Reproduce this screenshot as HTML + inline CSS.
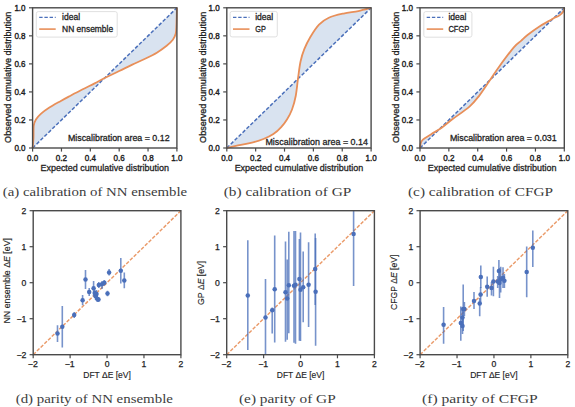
<!DOCTYPE html>
<html><head><meta charset="utf-8"><style>
html,body{margin:0;padding:0;background:#fff;width:575px;height:407px;overflow:hidden}
</style></head><body>
<svg width="575" height="407" viewBox="0 0 575 407" style="display:block">
<rect width="575" height="407" fill="#ffffff"/>
<g>
<path d="M32.6,148 C32.74,146.36 33.27,141.92 33.47,138.19 C33.66,134.45 33.35,128.68 33.75,125.57 C34.16,122.46 34.74,121.48 35.92,119.54 C37.1,117.6 38.71,115.85 40.83,113.93 C42.94,112.02 45.35,110.17 48.62,108.04 C51.89,105.92 56.89,103.18 60.45,101.17 C64.01,99.16 66.34,97.93 69.97,95.99 C73.61,94.05 78.13,91.64 82.24,89.54 C86.35,87.43 91.07,85.21 94.65,83.37 C98.23,81.52 99.65,80.52 103.74,78.46 C107.83,76.4 114.42,73.34 119.18,71.03 C123.94,68.72 128.08,66.59 132.31,64.58 C136.54,62.57 140.49,60.96 144.58,58.97 C148.67,56.99 153.16,54.86 156.84,52.66 C160.52,50.47 163.99,47.94 166.65,45.79 C169.32,43.64 171.34,41.82 172.86,39.77 C174.37,37.71 175.14,35.98 175.75,33.46 C176.35,30.93 176.27,28.9 176.47,24.62 C176.66,20.35 176.83,10.6 176.9,7.8 L32.6,148 Z" fill="#d9e3f0" stroke="none"/>
<line x1="32.6" y1="148" x2="176.9" y2="7.8" stroke="#4a6fba" stroke-width="1.5" stroke-dasharray="3.6,1.9"/>
<path d="M32.6,148 C32.74,146.36 33.27,141.92 33.47,138.19 C33.66,134.45 33.35,128.68 33.75,125.57 C34.16,122.46 34.74,121.48 35.92,119.54 C37.1,117.6 38.71,115.85 40.83,113.93 C42.94,112.02 45.35,110.17 48.62,108.04 C51.89,105.92 56.89,103.18 60.45,101.17 C64.01,99.16 66.34,97.93 69.97,95.99 C73.61,94.05 78.13,91.64 82.24,89.54 C86.35,87.43 91.07,85.21 94.65,83.37 C98.23,81.52 99.65,80.52 103.74,78.46 C107.83,76.4 114.42,73.34 119.18,71.03 C123.94,68.72 128.08,66.59 132.31,64.58 C136.54,62.57 140.49,60.96 144.58,58.97 C148.67,56.99 153.16,54.86 156.84,52.66 C160.52,50.47 163.99,47.94 166.65,45.79 C169.32,43.64 171.34,41.82 172.86,39.77 C174.37,37.71 175.14,35.98 175.75,33.46 C176.35,30.93 176.27,28.9 176.47,24.62 C176.66,20.35 176.83,10.6 176.9,7.8" fill="none" stroke="#e88f59" stroke-width="1.8"/>
<rect x="32.6" y="7.8" width="144.3" height="140.2" fill="none" stroke="#4a4a4a" stroke-width="1.4"/>
<line x1="32.6" y1="148" x2="32.6" y2="151.6" stroke="#4a4a4a" stroke-width="1.2"/>
<line x1="29" y1="148" x2="32.6" y2="148" stroke="#4a4a4a" stroke-width="1.2"/>
<text x="27" y="160.9" font-family="Liberation Sans" font-size="8.8" fill="#1e1e1e" font-weight="normal" stroke="#1e1e1e" stroke-width="0.4" textLength="11.2" lengthAdjust="spacingAndGlyphs">0.0</text>
<text x="14.4" y="150.9" font-family="Liberation Sans" font-size="8.8" fill="#1e1e1e" font-weight="normal" stroke="#1e1e1e" stroke-width="0.4" textLength="11.2" lengthAdjust="spacingAndGlyphs">0.0</text>
<line x1="61.46" y1="148" x2="61.46" y2="151.6" stroke="#4a4a4a" stroke-width="1.2"/>
<line x1="29" y1="119.96" x2="32.6" y2="119.96" stroke="#4a4a4a" stroke-width="1.2"/>
<text x="55.86" y="160.9" font-family="Liberation Sans" font-size="8.8" fill="#1e1e1e" font-weight="normal" stroke="#1e1e1e" stroke-width="0.4" textLength="11.2" lengthAdjust="spacingAndGlyphs">0.2</text>
<text x="14.4" y="122.86" font-family="Liberation Sans" font-size="8.8" fill="#1e1e1e" font-weight="normal" stroke="#1e1e1e" stroke-width="0.4" textLength="11.2" lengthAdjust="spacingAndGlyphs">0.2</text>
<line x1="90.32" y1="148" x2="90.32" y2="151.6" stroke="#4a4a4a" stroke-width="1.2"/>
<line x1="29" y1="91.92" x2="32.6" y2="91.92" stroke="#4a4a4a" stroke-width="1.2"/>
<text x="84.72" y="160.9" font-family="Liberation Sans" font-size="8.8" fill="#1e1e1e" font-weight="normal" stroke="#1e1e1e" stroke-width="0.4" textLength="11.2" lengthAdjust="spacingAndGlyphs">0.4</text>
<text x="14.4" y="94.82" font-family="Liberation Sans" font-size="8.8" fill="#1e1e1e" font-weight="normal" stroke="#1e1e1e" stroke-width="0.4" textLength="11.2" lengthAdjust="spacingAndGlyphs">0.4</text>
<line x1="119.18" y1="148" x2="119.18" y2="151.6" stroke="#4a4a4a" stroke-width="1.2"/>
<line x1="29" y1="63.88" x2="32.6" y2="63.88" stroke="#4a4a4a" stroke-width="1.2"/>
<text x="113.58" y="160.9" font-family="Liberation Sans" font-size="8.8" fill="#1e1e1e" font-weight="normal" stroke="#1e1e1e" stroke-width="0.4" textLength="11.2" lengthAdjust="spacingAndGlyphs">0.6</text>
<text x="14.4" y="66.78" font-family="Liberation Sans" font-size="8.8" fill="#1e1e1e" font-weight="normal" stroke="#1e1e1e" stroke-width="0.4" textLength="11.2" lengthAdjust="spacingAndGlyphs">0.6</text>
<line x1="148.04" y1="148" x2="148.04" y2="151.6" stroke="#4a4a4a" stroke-width="1.2"/>
<line x1="29" y1="35.84" x2="32.6" y2="35.84" stroke="#4a4a4a" stroke-width="1.2"/>
<text x="142.44" y="160.9" font-family="Liberation Sans" font-size="8.8" fill="#1e1e1e" font-weight="normal" stroke="#1e1e1e" stroke-width="0.4" textLength="11.2" lengthAdjust="spacingAndGlyphs">0.8</text>
<text x="14.4" y="38.74" font-family="Liberation Sans" font-size="8.8" fill="#1e1e1e" font-weight="normal" stroke="#1e1e1e" stroke-width="0.4" textLength="11.2" lengthAdjust="spacingAndGlyphs">0.8</text>
<line x1="176.9" y1="148" x2="176.9" y2="151.6" stroke="#4a4a4a" stroke-width="1.2"/>
<line x1="29" y1="7.8" x2="32.6" y2="7.8" stroke="#4a4a4a" stroke-width="1.2"/>
<text x="171.3" y="160.9" font-family="Liberation Sans" font-size="8.8" fill="#1e1e1e" font-weight="normal" stroke="#1e1e1e" stroke-width="0.4" textLength="11.2" lengthAdjust="spacingAndGlyphs">1.0</text>
<text x="14.4" y="10.7" font-family="Liberation Sans" font-size="8.8" fill="#1e1e1e" font-weight="normal" stroke="#1e1e1e" stroke-width="0.4" textLength="11.2" lengthAdjust="spacingAndGlyphs">1.0</text>
<text x="40.45" y="170.8" font-family="Liberation Sans" font-size="9.5" fill="#1e1e1e" font-weight="normal" stroke="#1e1e1e" stroke-width="0.3" textLength="128.6" lengthAdjust="spacingAndGlyphs">Expected cumulative distribution</text>
<text transform="translate(11.32,142.9) rotate(-90)" x="0" y="0" font-family="Liberation Sans" font-size="9.5" fill="#1e1e1e" font-weight="normal" stroke="#1e1e1e" stroke-width="0.3" textLength="131.1" lengthAdjust="spacingAndGlyphs">Observed cumulative distribution</text>
<rect x="36.3" y="11.6" width="80.9" height="25.5" rx="2" ry="2" fill="#ffffff" fill-opacity="0.85" stroke="#d8d8d8" stroke-width="0.8"/>
<line x1="39.2" y1="17.4" x2="55.7" y2="17.4" stroke="#4a6fba" stroke-width="1.3" stroke-dasharray="3.4,1.8"/>
<line x1="39.2" y1="29.1" x2="55.7" y2="29.1" stroke="#e88f59" stroke-width="1.6"/>
<text x="62.1" y="20.3" font-family="Liberation Sans" font-size="8.8" fill="#1e1e1e" font-weight="normal" stroke="#1e1e1e" stroke-width="0.3" textLength="18" lengthAdjust="spacingAndGlyphs">ideal</text>
<text x="62.1" y="31.9" font-family="Liberation Sans" font-size="8.8" fill="#1e1e1e" font-weight="normal" stroke="#1e1e1e" stroke-width="0.3" textLength="51" lengthAdjust="spacingAndGlyphs">NN ensemble</text>
<text x="67.9" y="140.5" font-family="Liberation Sans" font-size="9.2" fill="#1e1e1e" font-weight="normal" stroke="#1e1e1e" stroke-width="0.3" textLength="101.7" lengthAdjust="spacingAndGlyphs">Miscalibration area = 0.12</text>
<text x="2.8" y="196.4" font-family="Liberation Serif" font-size="13" fill="#3c3c3c" font-weight="normal" textLength="184.3" lengthAdjust="spacingAndGlyphs">(a) calibration of NN ensemble</text>
<path d="M226.8,148 C228.32,147.65 232.07,146.69 235.89,145.9 C239.71,145.1 245.15,144.38 249.74,143.23 C254.34,142.09 259.51,140.55 263.45,139.03 C267.4,137.51 270.45,136.11 273.41,134.12 C276.37,132.13 278.92,129.59 281.2,127.11 C283.49,124.63 285.31,122.2 287.12,119.26 C288.92,116.31 290.58,113.37 292.02,109.44 C293.47,105.52 294.77,100.96 295.78,95.71 C296.79,90.45 297.29,83.6 298.08,77.9 C298.88,72.2 299.5,66.29 300.54,61.5 C301.57,56.71 302.65,53.25 304.29,49.16 C305.92,45.07 307.9,41.05 310.35,36.96 C312.8,32.87 315.93,27.83 319.01,24.62 C322.09,21.42 324.73,19.6 328.82,17.75 C332.91,15.91 338.61,14.67 343.54,13.55 C348.47,12.43 353.81,11.98 358.4,11.02 C363,10.07 368.98,8.34 371.1,7.8 L226.8,148 Z" fill="#d9e3f0" stroke="none"/>
<line x1="226.8" y1="148" x2="371.1" y2="7.8" stroke="#4a6fba" stroke-width="1.5" stroke-dasharray="3.6,1.9"/>
<path d="M226.8,148 C228.32,147.65 232.07,146.69 235.89,145.9 C239.71,145.1 245.15,144.38 249.74,143.23 C254.34,142.09 259.51,140.55 263.45,139.03 C267.4,137.51 270.45,136.11 273.41,134.12 C276.37,132.13 278.92,129.59 281.2,127.11 C283.49,124.63 285.31,122.2 287.12,119.26 C288.92,116.31 290.58,113.37 292.02,109.44 C293.47,105.52 294.77,100.96 295.78,95.71 C296.79,90.45 297.29,83.6 298.08,77.9 C298.88,72.2 299.5,66.29 300.54,61.5 C301.57,56.71 302.65,53.25 304.29,49.16 C305.92,45.07 307.9,41.05 310.35,36.96 C312.8,32.87 315.93,27.83 319.01,24.62 C322.09,21.42 324.73,19.6 328.82,17.75 C332.91,15.91 338.61,14.67 343.54,13.55 C348.47,12.43 353.81,11.98 358.4,11.02 C363,10.07 368.98,8.34 371.1,7.8" fill="none" stroke="#e88f59" stroke-width="1.8"/>
<rect x="226.8" y="7.8" width="144.3" height="140.2" fill="none" stroke="#4a4a4a" stroke-width="1.4"/>
<line x1="226.8" y1="148" x2="226.8" y2="151.6" stroke="#4a4a4a" stroke-width="1.2"/>
<line x1="223.2" y1="148" x2="226.8" y2="148" stroke="#4a4a4a" stroke-width="1.2"/>
<text x="221.2" y="160.9" font-family="Liberation Sans" font-size="8.8" fill="#1e1e1e" font-weight="normal" stroke="#1e1e1e" stroke-width="0.4" textLength="11.2" lengthAdjust="spacingAndGlyphs">0.0</text>
<text x="208.6" y="150.9" font-family="Liberation Sans" font-size="8.8" fill="#1e1e1e" font-weight="normal" stroke="#1e1e1e" stroke-width="0.4" textLength="11.2" lengthAdjust="spacingAndGlyphs">0.0</text>
<line x1="255.66" y1="148" x2="255.66" y2="151.6" stroke="#4a4a4a" stroke-width="1.2"/>
<line x1="223.2" y1="119.96" x2="226.8" y2="119.96" stroke="#4a4a4a" stroke-width="1.2"/>
<text x="250.06" y="160.9" font-family="Liberation Sans" font-size="8.8" fill="#1e1e1e" font-weight="normal" stroke="#1e1e1e" stroke-width="0.4" textLength="11.2" lengthAdjust="spacingAndGlyphs">0.2</text>
<text x="208.6" y="122.86" font-family="Liberation Sans" font-size="8.8" fill="#1e1e1e" font-weight="normal" stroke="#1e1e1e" stroke-width="0.4" textLength="11.2" lengthAdjust="spacingAndGlyphs">0.2</text>
<line x1="284.52" y1="148" x2="284.52" y2="151.6" stroke="#4a4a4a" stroke-width="1.2"/>
<line x1="223.2" y1="91.92" x2="226.8" y2="91.92" stroke="#4a4a4a" stroke-width="1.2"/>
<text x="278.92" y="160.9" font-family="Liberation Sans" font-size="8.8" fill="#1e1e1e" font-weight="normal" stroke="#1e1e1e" stroke-width="0.4" textLength="11.2" lengthAdjust="spacingAndGlyphs">0.4</text>
<text x="208.6" y="94.82" font-family="Liberation Sans" font-size="8.8" fill="#1e1e1e" font-weight="normal" stroke="#1e1e1e" stroke-width="0.4" textLength="11.2" lengthAdjust="spacingAndGlyphs">0.4</text>
<line x1="313.38" y1="148" x2="313.38" y2="151.6" stroke="#4a4a4a" stroke-width="1.2"/>
<line x1="223.2" y1="63.88" x2="226.8" y2="63.88" stroke="#4a4a4a" stroke-width="1.2"/>
<text x="307.78" y="160.9" font-family="Liberation Sans" font-size="8.8" fill="#1e1e1e" font-weight="normal" stroke="#1e1e1e" stroke-width="0.4" textLength="11.2" lengthAdjust="spacingAndGlyphs">0.6</text>
<text x="208.6" y="66.78" font-family="Liberation Sans" font-size="8.8" fill="#1e1e1e" font-weight="normal" stroke="#1e1e1e" stroke-width="0.4" textLength="11.2" lengthAdjust="spacingAndGlyphs">0.6</text>
<line x1="342.24" y1="148" x2="342.24" y2="151.6" stroke="#4a4a4a" stroke-width="1.2"/>
<line x1="223.2" y1="35.84" x2="226.8" y2="35.84" stroke="#4a4a4a" stroke-width="1.2"/>
<text x="336.64" y="160.9" font-family="Liberation Sans" font-size="8.8" fill="#1e1e1e" font-weight="normal" stroke="#1e1e1e" stroke-width="0.4" textLength="11.2" lengthAdjust="spacingAndGlyphs">0.8</text>
<text x="208.6" y="38.74" font-family="Liberation Sans" font-size="8.8" fill="#1e1e1e" font-weight="normal" stroke="#1e1e1e" stroke-width="0.4" textLength="11.2" lengthAdjust="spacingAndGlyphs">0.8</text>
<line x1="371.1" y1="148" x2="371.1" y2="151.6" stroke="#4a4a4a" stroke-width="1.2"/>
<line x1="223.2" y1="7.8" x2="226.8" y2="7.8" stroke="#4a4a4a" stroke-width="1.2"/>
<text x="365.5" y="160.9" font-family="Liberation Sans" font-size="8.8" fill="#1e1e1e" font-weight="normal" stroke="#1e1e1e" stroke-width="0.4" textLength="11.2" lengthAdjust="spacingAndGlyphs">1.0</text>
<text x="208.6" y="10.7" font-family="Liberation Sans" font-size="8.8" fill="#1e1e1e" font-weight="normal" stroke="#1e1e1e" stroke-width="0.4" textLength="11.2" lengthAdjust="spacingAndGlyphs">1.0</text>
<text x="234.65" y="170.8" font-family="Liberation Sans" font-size="9.5" fill="#1e1e1e" font-weight="normal" stroke="#1e1e1e" stroke-width="0.3" textLength="128.6" lengthAdjust="spacingAndGlyphs">Expected cumulative distribution</text>
<text transform="translate(205.53,142.9) rotate(-90)" x="0" y="0" font-family="Liberation Sans" font-size="9.5" fill="#1e1e1e" font-weight="normal" stroke="#1e1e1e" stroke-width="0.3" textLength="131.1" lengthAdjust="spacingAndGlyphs">Observed cumulative distribution</text>
<rect x="230.1" y="11.4" width="47.2" height="25.5" rx="2" ry="2" fill="#ffffff" fill-opacity="0.85" stroke="#d8d8d8" stroke-width="0.8"/>
<line x1="233" y1="17.4" x2="249.5" y2="17.4" stroke="#4a6fba" stroke-width="1.3" stroke-dasharray="3.4,1.8"/>
<line x1="233" y1="29.1" x2="249.5" y2="29.1" stroke="#e88f59" stroke-width="1.6"/>
<text x="255.2" y="20.3" font-family="Liberation Sans" font-size="8.8" fill="#1e1e1e" font-weight="normal" stroke="#1e1e1e" stroke-width="0.3" textLength="18" lengthAdjust="spacingAndGlyphs">ideal</text>
<text x="255.2" y="31.9" font-family="Liberation Sans" font-size="8.8" fill="#1e1e1e" font-weight="normal" stroke="#1e1e1e" stroke-width="0.3" textLength="10.6" lengthAdjust="spacingAndGlyphs">GP</text>
<text x="265.4" y="144.9" font-family="Liberation Sans" font-size="9.2" fill="#1e1e1e" font-weight="normal" stroke="#1e1e1e" stroke-width="0.3" textLength="102.6" lengthAdjust="spacingAndGlyphs">Miscalibration area = 0.14</text>
<text x="223.7" y="196.4" font-family="Liberation Serif" font-size="13" fill="#3c3c3c" font-weight="normal" textLength="127.6" lengthAdjust="spacingAndGlyphs">(b) calibration of GP</text>
<path d="M420,148 C420.1,147.3 420.29,144.96 420.58,143.79 C420.87,142.63 421.03,141.9 421.73,140.99 C422.43,140.08 423.13,139.49 424.76,138.33 C426.4,137.16 428.78,135.71 431.54,133.98 C434.31,132.25 437.89,130.4 441.36,127.95 C444.82,125.5 447.63,122.81 452.32,119.26 C457.01,115.71 465,110.59 469.49,106.64 C473.99,102.69 476.25,99.47 479.31,95.57 C482.36,91.66 484.55,87.99 487.82,83.23 C491.09,78.46 494.6,72.95 498.93,66.96 C503.26,60.98 510.12,51.68 513.8,47.34 C517.47,42.99 518.73,42.94 521.01,40.89 C523.29,38.83 524.5,37.36 527.5,35 C530.51,32.64 535.34,29.13 539.05,26.73 C542.75,24.32 547.3,21.98 549.73,20.56 C552.15,19.13 551.99,19.04 553.62,18.17 C555.26,17.31 557.9,16.54 559.54,15.37 C561.17,14.2 562.64,12.43 563.43,11.16 C564.23,9.9 564.16,8.36 564.3,7.8 L420,148 Z" fill="#d9e3f0" stroke="none"/>
<line x1="420" y1="148" x2="564.3" y2="7.8" stroke="#4a6fba" stroke-width="1.5" stroke-dasharray="3.6,1.9"/>
<path d="M420,148 C420.1,147.3 420.29,144.96 420.58,143.79 C420.87,142.63 421.03,141.9 421.73,140.99 C422.43,140.08 423.13,139.49 424.76,138.33 C426.4,137.16 428.78,135.71 431.54,133.98 C434.31,132.25 437.89,130.4 441.36,127.95 C444.82,125.5 447.63,122.81 452.32,119.26 C457.01,115.71 465,110.59 469.49,106.64 C473.99,102.69 476.25,99.47 479.31,95.57 C482.36,91.66 484.55,87.99 487.82,83.23 C491.09,78.46 494.6,72.95 498.93,66.96 C503.26,60.98 510.12,51.68 513.8,47.34 C517.47,42.99 518.73,42.94 521.01,40.89 C523.29,38.83 524.5,37.36 527.5,35 C530.51,32.64 535.34,29.13 539.05,26.73 C542.75,24.32 547.3,21.98 549.73,20.56 C552.15,19.13 551.99,19.04 553.62,18.17 C555.26,17.31 557.9,16.54 559.54,15.37 C561.17,14.2 562.64,12.43 563.43,11.16 C564.23,9.9 564.16,8.36 564.3,7.8" fill="none" stroke="#e88f59" stroke-width="1.8"/>
<rect x="420" y="7.8" width="144.3" height="140.2" fill="none" stroke="#4a4a4a" stroke-width="1.4"/>
<line x1="420" y1="148" x2="420" y2="151.6" stroke="#4a4a4a" stroke-width="1.2"/>
<line x1="416.4" y1="148" x2="420" y2="148" stroke="#4a4a4a" stroke-width="1.2"/>
<text x="414.4" y="160.9" font-family="Liberation Sans" font-size="8.8" fill="#1e1e1e" font-weight="normal" stroke="#1e1e1e" stroke-width="0.4" textLength="11.2" lengthAdjust="spacingAndGlyphs">0.0</text>
<text x="401.8" y="150.9" font-family="Liberation Sans" font-size="8.8" fill="#1e1e1e" font-weight="normal" stroke="#1e1e1e" stroke-width="0.4" textLength="11.2" lengthAdjust="spacingAndGlyphs">0.0</text>
<line x1="448.86" y1="148" x2="448.86" y2="151.6" stroke="#4a4a4a" stroke-width="1.2"/>
<line x1="416.4" y1="119.96" x2="420" y2="119.96" stroke="#4a4a4a" stroke-width="1.2"/>
<text x="443.26" y="160.9" font-family="Liberation Sans" font-size="8.8" fill="#1e1e1e" font-weight="normal" stroke="#1e1e1e" stroke-width="0.4" textLength="11.2" lengthAdjust="spacingAndGlyphs">0.2</text>
<text x="401.8" y="122.86" font-family="Liberation Sans" font-size="8.8" fill="#1e1e1e" font-weight="normal" stroke="#1e1e1e" stroke-width="0.4" textLength="11.2" lengthAdjust="spacingAndGlyphs">0.2</text>
<line x1="477.72" y1="148" x2="477.72" y2="151.6" stroke="#4a4a4a" stroke-width="1.2"/>
<line x1="416.4" y1="91.92" x2="420" y2="91.92" stroke="#4a4a4a" stroke-width="1.2"/>
<text x="472.12" y="160.9" font-family="Liberation Sans" font-size="8.8" fill="#1e1e1e" font-weight="normal" stroke="#1e1e1e" stroke-width="0.4" textLength="11.2" lengthAdjust="spacingAndGlyphs">0.4</text>
<text x="401.8" y="94.82" font-family="Liberation Sans" font-size="8.8" fill="#1e1e1e" font-weight="normal" stroke="#1e1e1e" stroke-width="0.4" textLength="11.2" lengthAdjust="spacingAndGlyphs">0.4</text>
<line x1="506.58" y1="148" x2="506.58" y2="151.6" stroke="#4a4a4a" stroke-width="1.2"/>
<line x1="416.4" y1="63.88" x2="420" y2="63.88" stroke="#4a4a4a" stroke-width="1.2"/>
<text x="500.98" y="160.9" font-family="Liberation Sans" font-size="8.8" fill="#1e1e1e" font-weight="normal" stroke="#1e1e1e" stroke-width="0.4" textLength="11.2" lengthAdjust="spacingAndGlyphs">0.6</text>
<text x="401.8" y="66.78" font-family="Liberation Sans" font-size="8.8" fill="#1e1e1e" font-weight="normal" stroke="#1e1e1e" stroke-width="0.4" textLength="11.2" lengthAdjust="spacingAndGlyphs">0.6</text>
<line x1="535.44" y1="148" x2="535.44" y2="151.6" stroke="#4a4a4a" stroke-width="1.2"/>
<line x1="416.4" y1="35.84" x2="420" y2="35.84" stroke="#4a4a4a" stroke-width="1.2"/>
<text x="529.84" y="160.9" font-family="Liberation Sans" font-size="8.8" fill="#1e1e1e" font-weight="normal" stroke="#1e1e1e" stroke-width="0.4" textLength="11.2" lengthAdjust="spacingAndGlyphs">0.8</text>
<text x="401.8" y="38.74" font-family="Liberation Sans" font-size="8.8" fill="#1e1e1e" font-weight="normal" stroke="#1e1e1e" stroke-width="0.4" textLength="11.2" lengthAdjust="spacingAndGlyphs">0.8</text>
<line x1="564.3" y1="148" x2="564.3" y2="151.6" stroke="#4a4a4a" stroke-width="1.2"/>
<line x1="416.4" y1="7.8" x2="420" y2="7.8" stroke="#4a4a4a" stroke-width="1.2"/>
<text x="558.7" y="160.9" font-family="Liberation Sans" font-size="8.8" fill="#1e1e1e" font-weight="normal" stroke="#1e1e1e" stroke-width="0.4" textLength="11.2" lengthAdjust="spacingAndGlyphs">1.0</text>
<text x="401.8" y="10.7" font-family="Liberation Sans" font-size="8.8" fill="#1e1e1e" font-weight="normal" stroke="#1e1e1e" stroke-width="0.4" textLength="11.2" lengthAdjust="spacingAndGlyphs">1.0</text>
<text x="427.85" y="170.8" font-family="Liberation Sans" font-size="9.5" fill="#1e1e1e" font-weight="normal" stroke="#1e1e1e" stroke-width="0.3" textLength="128.6" lengthAdjust="spacingAndGlyphs">Expected cumulative distribution</text>
<text transform="translate(398.72,142.9) rotate(-90)" x="0" y="0" font-family="Liberation Sans" font-size="9.5" fill="#1e1e1e" font-weight="normal" stroke="#1e1e1e" stroke-width="0.3" textLength="131.1" lengthAdjust="spacingAndGlyphs">Observed cumulative distribution</text>
<rect x="423.8" y="11.6" width="48.1" height="25.6" rx="2" ry="2" fill="#ffffff" fill-opacity="0.85" stroke="#d8d8d8" stroke-width="0.8"/>
<line x1="426.7" y1="17.4" x2="443.2" y2="17.4" stroke="#4a6fba" stroke-width="1.3" stroke-dasharray="3.4,1.8"/>
<line x1="426.7" y1="29.1" x2="443.2" y2="29.1" stroke="#e88f59" stroke-width="1.6"/>
<text x="448.4" y="20.3" font-family="Liberation Sans" font-size="8.8" fill="#1e1e1e" font-weight="normal" stroke="#1e1e1e" stroke-width="0.3" textLength="18" lengthAdjust="spacingAndGlyphs">ideal</text>
<text x="448.4" y="31.9" font-family="Liberation Sans" font-size="8.8" fill="#1e1e1e" font-weight="normal" stroke="#1e1e1e" stroke-width="0.3" textLength="20.9" lengthAdjust="spacingAndGlyphs">CFGP</text>
<text x="449.9" y="140.7" font-family="Liberation Sans" font-size="9.2" fill="#1e1e1e" font-weight="normal" stroke="#1e1e1e" stroke-width="0.3" textLength="106.8" lengthAdjust="spacingAndGlyphs">Miscalibration area = 0.031</text>
<text x="408" y="196.4" font-family="Liberation Serif" font-size="13" fill="#3c3c3c" font-weight="normal" textLength="145.1" lengthAdjust="spacingAndGlyphs">(c) calibration of CFGP</text>
<clipPath id="cp0"><rect x="33.2" y="210.7" width="147.7" height="144"/></clipPath>
<g clip-path="url(#cp0)">
<line x1="33.2" y1="354.7" x2="180.9" y2="210.7" stroke="#e88f59" stroke-width="1.45" stroke-dasharray="3.6,1.6" stroke-opacity="0.9"/>
<line x1="57.5" y1="325.2" x2="57.5" y2="341.9" stroke="#4a6fba" stroke-width="1.6" stroke-opacity="0.75"/>
<line x1="62.3" y1="306.1" x2="62.3" y2="347.4" stroke="#4a6fba" stroke-width="1.6" stroke-opacity="0.75"/>
<line x1="74.2" y1="312" x2="74.2" y2="318" stroke="#4a6fba" stroke-width="1.6" stroke-opacity="0.75"/>
<line x1="82.6" y1="295" x2="82.6" y2="305.3" stroke="#4a6fba" stroke-width="1.6" stroke-opacity="0.75"/>
<line x1="85.5" y1="270" x2="85.5" y2="289" stroke="#4a6fba" stroke-width="1.6" stroke-opacity="0.75"/>
<line x1="89.2" y1="288" x2="89.2" y2="296" stroke="#4a6fba" stroke-width="1.6" stroke-opacity="0.75"/>
<line x1="93.6" y1="281" x2="93.6" y2="296" stroke="#4a6fba" stroke-width="1.6" stroke-opacity="0.75"/>
<line x1="95.6" y1="293" x2="95.6" y2="300" stroke="#4a6fba" stroke-width="1.6" stroke-opacity="0.75"/>
<line x1="97.2" y1="295" x2="97.2" y2="302" stroke="#4a6fba" stroke-width="1.6" stroke-opacity="0.75"/>
<line x1="96.5" y1="290" x2="96.5" y2="298" stroke="#4a6fba" stroke-width="1.6" stroke-opacity="0.75"/>
<line x1="98.5" y1="297" x2="98.5" y2="302" stroke="#4a6fba" stroke-width="1.6" stroke-opacity="0.75"/>
<line x1="94.8" y1="290" x2="94.8" y2="296" stroke="#4a6fba" stroke-width="1.6" stroke-opacity="0.75"/>
<line x1="98.8" y1="282" x2="98.8" y2="288" stroke="#4a6fba" stroke-width="1.6" stroke-opacity="0.75"/>
<line x1="102" y1="281" x2="102" y2="289" stroke="#4a6fba" stroke-width="1.6" stroke-opacity="0.75"/>
<line x1="104.3" y1="280" x2="104.3" y2="285.5" stroke="#4a6fba" stroke-width="1.6" stroke-opacity="0.75"/>
<line x1="107.5" y1="290.7" x2="107.5" y2="296.3" stroke="#4a6fba" stroke-width="1.6" stroke-opacity="0.75"/>
<line x1="109.1" y1="269" x2="109.1" y2="275.6" stroke="#4a6fba" stroke-width="1.6" stroke-opacity="0.75"/>
<line x1="120.8" y1="258" x2="120.8" y2="283.5" stroke="#4a6fba" stroke-width="1.6" stroke-opacity="0.75"/>
<line x1="124.3" y1="272.4" x2="124.3" y2="288.3" stroke="#4a6fba" stroke-width="1.6" stroke-opacity="0.75"/>
<circle cx="57.5" cy="333.6" r="2.25" fill="#4a6fba"/>
<circle cx="62.3" cy="326.7" r="2.25" fill="#4a6fba"/>
<circle cx="74.2" cy="314.9" r="2.25" fill="#4a6fba"/>
<circle cx="82.6" cy="300.2" r="2.25" fill="#4a6fba"/>
<circle cx="85.5" cy="279.6" r="2.25" fill="#4a6fba"/>
<circle cx="89.2" cy="291.9" r="2.25" fill="#4a6fba"/>
<circle cx="93.6" cy="288.3" r="2.25" fill="#4a6fba"/>
<circle cx="95.6" cy="296.3" r="2.25" fill="#4a6fba"/>
<circle cx="97.2" cy="298.7" r="2.25" fill="#4a6fba"/>
<circle cx="96.5" cy="294" r="2.25" fill="#4a6fba"/>
<circle cx="98.5" cy="299.5" r="2.25" fill="#4a6fba"/>
<circle cx="94.8" cy="293" r="2.25" fill="#4a6fba"/>
<circle cx="98.8" cy="285.1" r="2.25" fill="#4a6fba"/>
<circle cx="102" cy="284.3" r="2.25" fill="#4a6fba"/>
<circle cx="104.3" cy="282.7" r="2.25" fill="#4a6fba"/>
<circle cx="107.5" cy="293.5" r="2.25" fill="#4a6fba"/>
<circle cx="109.1" cy="272.4" r="2.25" fill="#4a6fba"/>
<circle cx="120.8" cy="270.8" r="2.25" fill="#4a6fba"/>
<circle cx="124.3" cy="280.4" r="2.25" fill="#4a6fba"/>
</g>
<rect x="33.2" y="210.7" width="147.7" height="144" fill="none" stroke="#4a4a4a" stroke-width="1.4"/>
<line x1="33.2" y1="354.7" x2="33.2" y2="358.3" stroke="#4a4a4a" stroke-width="1.2"/>
<line x1="29.6" y1="354.7" x2="33.2" y2="354.7" stroke="#4a4a4a" stroke-width="1.2"/>
<text x="27.8" y="367.4" font-family="Liberation Sans" font-size="8.6" fill="#1e1e1e" font-weight="normal" stroke="#1e1e1e" stroke-width="0.25" textLength="10" lengthAdjust="spacingAndGlyphs">&#8722;2</text>
<text x="16.4" y="357.6" font-family="Liberation Sans" font-size="8.6" fill="#1e1e1e" font-weight="normal" stroke="#1e1e1e" stroke-width="0.25" textLength="10" lengthAdjust="spacingAndGlyphs">&#8722;2</text>
<line x1="70.12" y1="354.7" x2="70.12" y2="358.3" stroke="#4a4a4a" stroke-width="1.2"/>
<line x1="29.6" y1="318.7" x2="33.2" y2="318.7" stroke="#4a4a4a" stroke-width="1.2"/>
<text x="64.72" y="367.4" font-family="Liberation Sans" font-size="8.6" fill="#1e1e1e" font-weight="normal" stroke="#1e1e1e" stroke-width="0.25" textLength="10" lengthAdjust="spacingAndGlyphs">&#8722;1</text>
<text x="16.4" y="321.6" font-family="Liberation Sans" font-size="8.6" fill="#1e1e1e" font-weight="normal" stroke="#1e1e1e" stroke-width="0.25" textLength="10" lengthAdjust="spacingAndGlyphs">&#8722;1</text>
<line x1="107.05" y1="354.7" x2="107.05" y2="358.3" stroke="#4a4a4a" stroke-width="1.2"/>
<line x1="29.6" y1="282.7" x2="33.2" y2="282.7" stroke="#4a4a4a" stroke-width="1.2"/>
<text x="104.65" y="367.4" font-family="Liberation Sans" font-size="8.6" fill="#1e1e1e" font-weight="normal" stroke="#1e1e1e" stroke-width="0.25" textLength="4.8" lengthAdjust="spacingAndGlyphs">0</text>
<text x="21.6" y="285.6" font-family="Liberation Sans" font-size="8.6" fill="#1e1e1e" font-weight="normal" stroke="#1e1e1e" stroke-width="0.25" textLength="4.8" lengthAdjust="spacingAndGlyphs">0</text>
<line x1="143.97" y1="354.7" x2="143.97" y2="358.3" stroke="#4a4a4a" stroke-width="1.2"/>
<line x1="29.6" y1="246.7" x2="33.2" y2="246.7" stroke="#4a4a4a" stroke-width="1.2"/>
<text x="141.57" y="367.4" font-family="Liberation Sans" font-size="8.6" fill="#1e1e1e" font-weight="normal" stroke="#1e1e1e" stroke-width="0.25" textLength="4.8" lengthAdjust="spacingAndGlyphs">1</text>
<text x="21.6" y="249.6" font-family="Liberation Sans" font-size="8.6" fill="#1e1e1e" font-weight="normal" stroke="#1e1e1e" stroke-width="0.25" textLength="4.8" lengthAdjust="spacingAndGlyphs">1</text>
<line x1="180.9" y1="354.7" x2="180.9" y2="358.3" stroke="#4a4a4a" stroke-width="1.2"/>
<line x1="29.6" y1="210.7" x2="33.2" y2="210.7" stroke="#4a4a4a" stroke-width="1.2"/>
<text x="178.5" y="367.4" font-family="Liberation Sans" font-size="8.6" fill="#1e1e1e" font-weight="normal" stroke="#1e1e1e" stroke-width="0.25" textLength="4.8" lengthAdjust="spacingAndGlyphs">2</text>
<text x="21.6" y="213.6" font-family="Liberation Sans" font-size="8.6" fill="#1e1e1e" font-weight="normal" stroke="#1e1e1e" stroke-width="0.25" textLength="4.8" lengthAdjust="spacingAndGlyphs">2</text>
<text x="83.25" y="377.6" font-family="Liberation Sans" font-size="8.8" fill="#1e1e1e" font-weight="normal" stroke="#1e1e1e" stroke-width="0.15" textLength="47.6" lengthAdjust="spacingAndGlyphs">DFT &#916;E [eV]</text>
<text transform="translate(10.21,323.5) rotate(-90)" x="0" y="0" font-family="Liberation Sans" font-size="8.6" fill="#1e1e1e" font-weight="normal" stroke="#1e1e1e" stroke-width="0.15" textLength="85.5" lengthAdjust="spacingAndGlyphs">NN ensemble &#916;<tspan font-style="italic">E</tspan> [eV]</text>
<text x="15.7" y="402.9" font-family="Liberation Serif" font-size="13" fill="#3c3c3c" font-weight="normal" textLength="157.2" lengthAdjust="spacingAndGlyphs">(d) parity of NN ensemble</text>
<clipPath id="cp1"><rect x="226.7" y="210.7" width="147.7" height="144"/></clipPath>
<g clip-path="url(#cp1)">
<line x1="226.7" y1="354.7" x2="374.4" y2="210.7" stroke="#e88f59" stroke-width="1.45" stroke-dasharray="3.6,1.6" stroke-opacity="0.9"/>
<line x1="247.8" y1="240.2" x2="247.8" y2="350" stroke="#4a6fba" stroke-width="1.6" stroke-opacity="0.75"/>
<line x1="265.5" y1="279" x2="265.5" y2="356" stroke="#4a6fba" stroke-width="1.6" stroke-opacity="0.75"/>
<line x1="272.2" y1="307.6" x2="272.2" y2="333.4" stroke="#4a6fba" stroke-width="1.6" stroke-opacity="0.75"/>
<line x1="274.7" y1="235.6" x2="274.7" y2="342.6" stroke="#4a6fba" stroke-width="1.6" stroke-opacity="0.75"/>
<line x1="285.5" y1="241.6" x2="285.5" y2="341.8" stroke="#4a6fba" stroke-width="1.6" stroke-opacity="0.75"/>
<line x1="287.2" y1="259.4" x2="287.2" y2="339.8" stroke="#4a6fba" stroke-width="1.6" stroke-opacity="0.75"/>
<line x1="288.8" y1="231.8" x2="288.8" y2="333.2" stroke="#4a6fba" stroke-width="1.6" stroke-opacity="0.75"/>
<line x1="294" y1="231.1" x2="294" y2="342.8" stroke="#4a6fba" stroke-width="1.6" stroke-opacity="0.75"/>
<line x1="295.5" y1="231.1" x2="295.5" y2="343.8" stroke="#4a6fba" stroke-width="1.6" stroke-opacity="0.75"/>
<line x1="299.4" y1="239.1" x2="299.4" y2="340.8" stroke="#4a6fba" stroke-width="1.6" stroke-opacity="0.75"/>
<line x1="300.5" y1="232.4" x2="300.5" y2="341" stroke="#4a6fba" stroke-width="1.6" stroke-opacity="0.75"/>
<line x1="303.2" y1="251.4" x2="303.2" y2="322.2" stroke="#4a6fba" stroke-width="1.6" stroke-opacity="0.75"/>
<line x1="308.6" y1="242.2" x2="308.6" y2="327.1" stroke="#4a6fba" stroke-width="1.6" stroke-opacity="0.75"/>
<line x1="315.2" y1="233.6" x2="315.2" y2="305" stroke="#4a6fba" stroke-width="1.6" stroke-opacity="0.75"/>
<line x1="315.6" y1="238" x2="315.6" y2="345.7" stroke="#4a6fba" stroke-width="1.6" stroke-opacity="0.75"/>
<line x1="353.6" y1="200" x2="353.6" y2="286" stroke="#4a6fba" stroke-width="1.6" stroke-opacity="0.75"/>
<circle cx="247.8" cy="295.5" r="2.25" fill="#4a6fba"/>
<circle cx="265.5" cy="317.6" r="2.25" fill="#4a6fba"/>
<circle cx="272.2" cy="310.2" r="2.25" fill="#4a6fba"/>
<circle cx="274.7" cy="289.2" r="2.25" fill="#4a6fba"/>
<circle cx="285.5" cy="292.3" r="2.25" fill="#4a6fba"/>
<circle cx="287.2" cy="298.6" r="2.25" fill="#4a6fba"/>
<circle cx="288.8" cy="285.2" r="2.25" fill="#4a6fba"/>
<circle cx="294" cy="285.8" r="2.25" fill="#4a6fba"/>
<circle cx="295.5" cy="284.8" r="2.25" fill="#4a6fba"/>
<circle cx="299.4" cy="278.9" r="2.25" fill="#4a6fba"/>
<circle cx="300.5" cy="289.7" r="2.25" fill="#4a6fba"/>
<circle cx="303.2" cy="287.2" r="2.25" fill="#4a6fba"/>
<circle cx="308.6" cy="284.8" r="2.25" fill="#4a6fba"/>
<circle cx="315.2" cy="269" r="2.25" fill="#4a6fba"/>
<circle cx="315.6" cy="291.7" r="2.25" fill="#4a6fba"/>
<circle cx="353.6" cy="233.9" r="2.25" fill="#4a6fba"/>
</g>
<rect x="226.7" y="210.7" width="147.7" height="144" fill="none" stroke="#4a4a4a" stroke-width="1.4"/>
<line x1="226.7" y1="354.7" x2="226.7" y2="358.3" stroke="#4a4a4a" stroke-width="1.2"/>
<line x1="223.1" y1="354.7" x2="226.7" y2="354.7" stroke="#4a4a4a" stroke-width="1.2"/>
<text x="221.3" y="367.4" font-family="Liberation Sans" font-size="8.6" fill="#1e1e1e" font-weight="normal" stroke="#1e1e1e" stroke-width="0.25" textLength="10" lengthAdjust="spacingAndGlyphs">&#8722;2</text>
<text x="209.9" y="357.6" font-family="Liberation Sans" font-size="8.6" fill="#1e1e1e" font-weight="normal" stroke="#1e1e1e" stroke-width="0.25" textLength="10" lengthAdjust="spacingAndGlyphs">&#8722;2</text>
<line x1="263.62" y1="354.7" x2="263.62" y2="358.3" stroke="#4a4a4a" stroke-width="1.2"/>
<line x1="223.1" y1="318.7" x2="226.7" y2="318.7" stroke="#4a4a4a" stroke-width="1.2"/>
<text x="258.23" y="367.4" font-family="Liberation Sans" font-size="8.6" fill="#1e1e1e" font-weight="normal" stroke="#1e1e1e" stroke-width="0.25" textLength="10" lengthAdjust="spacingAndGlyphs">&#8722;1</text>
<text x="209.9" y="321.6" font-family="Liberation Sans" font-size="8.6" fill="#1e1e1e" font-weight="normal" stroke="#1e1e1e" stroke-width="0.25" textLength="10" lengthAdjust="spacingAndGlyphs">&#8722;1</text>
<line x1="300.55" y1="354.7" x2="300.55" y2="358.3" stroke="#4a4a4a" stroke-width="1.2"/>
<line x1="223.1" y1="282.7" x2="226.7" y2="282.7" stroke="#4a4a4a" stroke-width="1.2"/>
<text x="298.15" y="367.4" font-family="Liberation Sans" font-size="8.6" fill="#1e1e1e" font-weight="normal" stroke="#1e1e1e" stroke-width="0.25" textLength="4.8" lengthAdjust="spacingAndGlyphs">0</text>
<text x="215.1" y="285.6" font-family="Liberation Sans" font-size="8.6" fill="#1e1e1e" font-weight="normal" stroke="#1e1e1e" stroke-width="0.25" textLength="4.8" lengthAdjust="spacingAndGlyphs">0</text>
<line x1="337.47" y1="354.7" x2="337.47" y2="358.3" stroke="#4a4a4a" stroke-width="1.2"/>
<line x1="223.1" y1="246.7" x2="226.7" y2="246.7" stroke="#4a4a4a" stroke-width="1.2"/>
<text x="335.07" y="367.4" font-family="Liberation Sans" font-size="8.6" fill="#1e1e1e" font-weight="normal" stroke="#1e1e1e" stroke-width="0.25" textLength="4.8" lengthAdjust="spacingAndGlyphs">1</text>
<text x="215.1" y="249.6" font-family="Liberation Sans" font-size="8.6" fill="#1e1e1e" font-weight="normal" stroke="#1e1e1e" stroke-width="0.25" textLength="4.8" lengthAdjust="spacingAndGlyphs">1</text>
<line x1="374.4" y1="354.7" x2="374.4" y2="358.3" stroke="#4a4a4a" stroke-width="1.2"/>
<line x1="223.1" y1="210.7" x2="226.7" y2="210.7" stroke="#4a4a4a" stroke-width="1.2"/>
<text x="372" y="367.4" font-family="Liberation Sans" font-size="8.6" fill="#1e1e1e" font-weight="normal" stroke="#1e1e1e" stroke-width="0.25" textLength="4.8" lengthAdjust="spacingAndGlyphs">2</text>
<text x="215.1" y="213.6" font-family="Liberation Sans" font-size="8.6" fill="#1e1e1e" font-weight="normal" stroke="#1e1e1e" stroke-width="0.25" textLength="4.8" lengthAdjust="spacingAndGlyphs">2</text>
<text x="276.75" y="377.6" font-family="Liberation Sans" font-size="8.8" fill="#1e1e1e" font-weight="normal" stroke="#1e1e1e" stroke-width="0.15" textLength="47.6" lengthAdjust="spacingAndGlyphs">DFT &#916;E [eV]</text>
<text transform="translate(203.71,304.9) rotate(-90)" x="0" y="0" font-family="Liberation Sans" font-size="8.6" fill="#1e1e1e" font-weight="normal" stroke="#1e1e1e" stroke-width="0.15" textLength="44.2" lengthAdjust="spacingAndGlyphs">GP &#916;<tspan font-style="italic">E</tspan> [eV]</text>
<text x="239" y="402.9" font-family="Liberation Serif" font-size="13" fill="#3c3c3c" font-weight="normal" textLength="96.7" lengthAdjust="spacingAndGlyphs">(e) parity of GP</text>
<clipPath id="cp2"><rect x="420.1" y="210.7" width="147.7" height="144"/></clipPath>
<g clip-path="url(#cp2)">
<line x1="420.1" y1="354.7" x2="567.8" y2="210.7" stroke="#e88f59" stroke-width="1.45" stroke-dasharray="3.6,1.6" stroke-opacity="0.9"/>
<line x1="443.6" y1="307" x2="443.6" y2="343.7" stroke="#4a6fba" stroke-width="1.6" stroke-opacity="0.75"/>
<line x1="460.8" y1="306.4" x2="460.8" y2="340.8" stroke="#4a6fba" stroke-width="1.6" stroke-opacity="0.75"/>
<line x1="462.5" y1="310" x2="462.5" y2="326" stroke="#4a6fba" stroke-width="1.6" stroke-opacity="0.75"/>
<line x1="463.2" y1="284.4" x2="463.2" y2="331" stroke="#4a6fba" stroke-width="1.6" stroke-opacity="0.75"/>
<line x1="464.4" y1="302" x2="464.4" y2="316" stroke="#4a6fba" stroke-width="1.6" stroke-opacity="0.75"/>
<line x1="462.5" y1="318" x2="462.5" y2="334" stroke="#4a6fba" stroke-width="1.6" stroke-opacity="0.75"/>
<line x1="474" y1="292" x2="474" y2="309" stroke="#4a6fba" stroke-width="1.6" stroke-opacity="0.75"/>
<line x1="479.7" y1="297.9" x2="479.7" y2="316.3" stroke="#4a6fba" stroke-width="1.6" stroke-opacity="0.75"/>
<line x1="480.6" y1="287" x2="480.6" y2="303" stroke="#4a6fba" stroke-width="1.6" stroke-opacity="0.75"/>
<line x1="480.8" y1="265.5" x2="480.8" y2="288" stroke="#4a6fba" stroke-width="1.6" stroke-opacity="0.75"/>
<line x1="487.2" y1="276.5" x2="487.2" y2="296.8" stroke="#4a6fba" stroke-width="1.6" stroke-opacity="0.75"/>
<line x1="491.5" y1="282" x2="491.5" y2="295.5" stroke="#4a6fba" stroke-width="1.6" stroke-opacity="0.75"/>
<line x1="493.4" y1="266.7" x2="493.4" y2="296.2" stroke="#4a6fba" stroke-width="1.6" stroke-opacity="0.75"/>
<line x1="497.7" y1="276" x2="497.7" y2="288" stroke="#4a6fba" stroke-width="1.6" stroke-opacity="0.75"/>
<line x1="498.9" y1="260" x2="498.9" y2="282" stroke="#4a6fba" stroke-width="1.6" stroke-opacity="0.75"/>
<line x1="499.5" y1="268" x2="499.5" y2="298" stroke="#4a6fba" stroke-width="1.6" stroke-opacity="0.75"/>
<line x1="500.7" y1="266.7" x2="500.7" y2="292.5" stroke="#4a6fba" stroke-width="1.6" stroke-opacity="0.75"/>
<line x1="503" y1="267.3" x2="503" y2="288" stroke="#4a6fba" stroke-width="1.6" stroke-opacity="0.75"/>
<line x1="504.4" y1="274" x2="504.4" y2="288" stroke="#4a6fba" stroke-width="1.6" stroke-opacity="0.75"/>
<line x1="526.7" y1="246.6" x2="526.7" y2="297.3" stroke="#4a6fba" stroke-width="1.6" stroke-opacity="0.75"/>
<line x1="532.8" y1="230.4" x2="532.8" y2="266.9" stroke="#4a6fba" stroke-width="1.6" stroke-opacity="0.75"/>
<circle cx="443.6" cy="324.8" r="2.25" fill="#4a6fba"/>
<circle cx="460.8" cy="323.1" r="2.25" fill="#4a6fba"/>
<circle cx="462.5" cy="317.5" r="2.25" fill="#4a6fba"/>
<circle cx="463.2" cy="308.9" r="2.25" fill="#4a6fba"/>
<circle cx="464.4" cy="308.9" r="2.25" fill="#4a6fba"/>
<circle cx="462.5" cy="326" r="2.25" fill="#4a6fba"/>
<circle cx="474" cy="301.1" r="2.25" fill="#4a6fba"/>
<circle cx="479.7" cy="303.5" r="2.25" fill="#4a6fba"/>
<circle cx="480.6" cy="294.6" r="2.25" fill="#4a6fba"/>
<circle cx="480.8" cy="276.9" r="2.25" fill="#4a6fba"/>
<circle cx="487.2" cy="286.7" r="2.25" fill="#4a6fba"/>
<circle cx="491.5" cy="288" r="2.25" fill="#4a6fba"/>
<circle cx="493.4" cy="281.4" r="2.25" fill="#4a6fba"/>
<circle cx="497.7" cy="281.4" r="2.25" fill="#4a6fba"/>
<circle cx="498.9" cy="271" r="2.25" fill="#4a6fba"/>
<circle cx="499.5" cy="283" r="2.25" fill="#4a6fba"/>
<circle cx="500.7" cy="279.6" r="2.25" fill="#4a6fba"/>
<circle cx="503" cy="277.7" r="2.25" fill="#4a6fba"/>
<circle cx="504.4" cy="280.8" r="2.25" fill="#4a6fba"/>
<circle cx="526.7" cy="272.1" r="2.25" fill="#4a6fba"/>
<circle cx="532.8" cy="247.8" r="2.25" fill="#4a6fba"/>
</g>
<rect x="420.1" y="210.7" width="147.7" height="144" fill="none" stroke="#4a4a4a" stroke-width="1.4"/>
<line x1="420.1" y1="354.7" x2="420.1" y2="358.3" stroke="#4a4a4a" stroke-width="1.2"/>
<line x1="416.5" y1="354.7" x2="420.1" y2="354.7" stroke="#4a4a4a" stroke-width="1.2"/>
<text x="414.7" y="367.4" font-family="Liberation Sans" font-size="8.6" fill="#1e1e1e" font-weight="normal" stroke="#1e1e1e" stroke-width="0.25" textLength="10" lengthAdjust="spacingAndGlyphs">&#8722;2</text>
<text x="403.3" y="357.6" font-family="Liberation Sans" font-size="8.6" fill="#1e1e1e" font-weight="normal" stroke="#1e1e1e" stroke-width="0.25" textLength="10" lengthAdjust="spacingAndGlyphs">&#8722;2</text>
<line x1="457.03" y1="354.7" x2="457.03" y2="358.3" stroke="#4a4a4a" stroke-width="1.2"/>
<line x1="416.5" y1="318.7" x2="420.1" y2="318.7" stroke="#4a4a4a" stroke-width="1.2"/>
<text x="451.63" y="367.4" font-family="Liberation Sans" font-size="8.6" fill="#1e1e1e" font-weight="normal" stroke="#1e1e1e" stroke-width="0.25" textLength="10" lengthAdjust="spacingAndGlyphs">&#8722;1</text>
<text x="403.3" y="321.6" font-family="Liberation Sans" font-size="8.6" fill="#1e1e1e" font-weight="normal" stroke="#1e1e1e" stroke-width="0.25" textLength="10" lengthAdjust="spacingAndGlyphs">&#8722;1</text>
<line x1="493.95" y1="354.7" x2="493.95" y2="358.3" stroke="#4a4a4a" stroke-width="1.2"/>
<line x1="416.5" y1="282.7" x2="420.1" y2="282.7" stroke="#4a4a4a" stroke-width="1.2"/>
<text x="491.55" y="367.4" font-family="Liberation Sans" font-size="8.6" fill="#1e1e1e" font-weight="normal" stroke="#1e1e1e" stroke-width="0.25" textLength="4.8" lengthAdjust="spacingAndGlyphs">0</text>
<text x="408.5" y="285.6" font-family="Liberation Sans" font-size="8.6" fill="#1e1e1e" font-weight="normal" stroke="#1e1e1e" stroke-width="0.25" textLength="4.8" lengthAdjust="spacingAndGlyphs">0</text>
<line x1="530.88" y1="354.7" x2="530.88" y2="358.3" stroke="#4a4a4a" stroke-width="1.2"/>
<line x1="416.5" y1="246.7" x2="420.1" y2="246.7" stroke="#4a4a4a" stroke-width="1.2"/>
<text x="528.48" y="367.4" font-family="Liberation Sans" font-size="8.6" fill="#1e1e1e" font-weight="normal" stroke="#1e1e1e" stroke-width="0.25" textLength="4.8" lengthAdjust="spacingAndGlyphs">1</text>
<text x="408.5" y="249.6" font-family="Liberation Sans" font-size="8.6" fill="#1e1e1e" font-weight="normal" stroke="#1e1e1e" stroke-width="0.25" textLength="4.8" lengthAdjust="spacingAndGlyphs">1</text>
<line x1="567.8" y1="354.7" x2="567.8" y2="358.3" stroke="#4a4a4a" stroke-width="1.2"/>
<line x1="416.5" y1="210.7" x2="420.1" y2="210.7" stroke="#4a4a4a" stroke-width="1.2"/>
<text x="565.4" y="367.4" font-family="Liberation Sans" font-size="8.6" fill="#1e1e1e" font-weight="normal" stroke="#1e1e1e" stroke-width="0.25" textLength="4.8" lengthAdjust="spacingAndGlyphs">2</text>
<text x="408.5" y="213.6" font-family="Liberation Sans" font-size="8.6" fill="#1e1e1e" font-weight="normal" stroke="#1e1e1e" stroke-width="0.25" textLength="4.8" lengthAdjust="spacingAndGlyphs">2</text>
<text x="470.15" y="377.6" font-family="Liberation Sans" font-size="8.8" fill="#1e1e1e" font-weight="normal" stroke="#1e1e1e" stroke-width="0.15" textLength="47.6" lengthAdjust="spacingAndGlyphs">DFT &#916;E [eV]</text>
<text transform="translate(397.11,309.9) rotate(-90)" x="0" y="0" font-family="Liberation Sans" font-size="8.6" fill="#1e1e1e" font-weight="normal" stroke="#1e1e1e" stroke-width="0.15" textLength="55.3" lengthAdjust="spacingAndGlyphs">CFGP &#916;<tspan font-style="italic">E</tspan> [eV]</text>
<text x="422" y="402.9" font-family="Liberation Serif" font-size="13" fill="#3c3c3c" font-weight="normal" textLength="115.8" lengthAdjust="spacingAndGlyphs">(f) parity of CFGP</text>
</g>
</svg>
</body></html>
